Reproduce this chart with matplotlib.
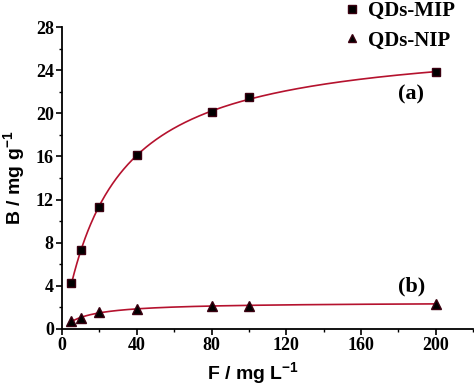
import numpy as np
import matplotlib
matplotlib.use("Agg")
import matplotlib.pyplot as plt
from matplotlib.ticker import MultipleLocator

plt.rcParams["mathtext.fontset"] = "custom"
plt.rcParams["mathtext.rm"] = "Liberation Sans:bold"
plt.rcParams["mathtext.default"] = "rm"

F = [5, 10, 20, 40, 80, 100, 200]
B_mip = [4.3, 7.3, 11.3, 16.1, 20.1, 21.5, 23.8]
B_nip = [0.7, 1.0, 1.55, 1.85, 2.1, 2.15, 2.35]
xticks = [0, 40, 80, 120, 160, 200]
yticks = [0, 4, 8, 12, 16, 20, 24, 28]

def langmuir_fit(x, y):
    x = np.asarray(x, float); y = np.asarray(y, float)
    best = None
    for K in np.logspace(-4, 1, 4000):
        g = K * x / (1 + K * x)
        bm = np.dot(g, y) / np.dot(g, g)
        err = np.sum((bm * g - y) ** 2)
        if best is None or err < best[0]:
            best = (err, bm, K)
    return best[1], best[2]

fig = plt.figure(figsize=(4.74, 3.86), dpi=100)
ax = fig.add_axes([0.131, 0.148, 0.867, 0.782])

line_c = "#b5122e"
xx = np.linspace(min(F), max(F), 400)
for ys in (B_mip, B_nip):
    bm, K = langmuir_fit(F, ys)
    ax.plot(xx, bm * K * xx / (1 + K * xx), color=line_c, lw=1.2, zorder=2)

ax.plot(F, B_mip, 's', color="black", ms=6, mec="#3a0010", zorder=3, label="QDs-MIP")
ax.plot(F, B_nip, '^', color="black", ms=7, mec="#3a0010", zorder=3, label="QDs-NIP")

ax.set_xlim(0, 220)
ax.set_ylim(0, 28)
ax.set_xticks(xticks)
ax.set_yticks(yticks)
ax.xaxis.set_minor_locator(MultipleLocator(20))
ax.yaxis.set_minor_locator(MultipleLocator(2))
for s in ("top", "right"):
    ax.spines[s].set_visible(False)
for s in ("left", "bottom"):
    ax.spines[s].set_linewidth(1.3)
ax.tick_params(which="major", direction="out", length=4, width=1.2, pad=2)
ax.tick_params(which="minor", direction="out", length=2.5, width=1.0)
for lab in ax.get_xticklabels() + ax.get_yticklabels():
    lab.set_fontfamily("Liberation Serif")
    lab.set_fontweight("bold")
    lab.set_fontsize(13)

ax.set_xlabel("F / mg L$^{-1}$", fontfamily="Liberation Sans", fontweight="bold", fontsize=14)
ax.xaxis.set_label_coords(0.465, -0.105)
ax.set_ylabel("B / mg g$^{-1}$", fontfamily="Liberation Sans", fontweight="bold", fontsize=14, labelpad=6)

ax.text(187, 21.7, "(a)", fontfamily="Liberation Serif", fontweight="bold", fontsize=16, ha="center", va="center")
ax.text(187, 3.9, "(b)", fontfamily="Liberation Serif", fontweight="bold", fontsize=16, ha="center", va="center")

leg = fig.legend(loc="upper right", bbox_to_anchor=(1.0, 1.045), frameon=False,
                 prop={"family": "Liberation Serif", "weight": "bold", "size": 15},
                 handletextpad=0.3, labelspacing=0.45, handlelength=1.0, markerscale=0.9)

fig.savefig("out.png", dpi=100)
